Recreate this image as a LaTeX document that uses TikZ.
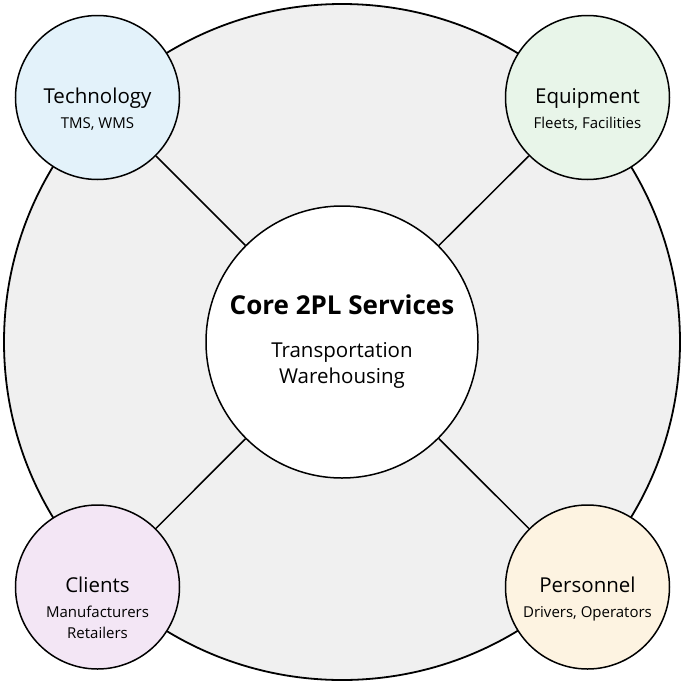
\documentclass[tikz,border=0pt]{standalone}
\usepackage{fontspec}
\setmainfont{Open Sans}
\usepackage{tikz}
\usetikzlibrary{positioning}
\definecolor{ringgray}{RGB}{240,240,240}
\definecolor{techblue}{RGB}{227,242,250}
\definecolor{equipgreen}{RGB}{232,245,233}
\definecolor{clientpurple}{RGB}{243,230,245}
\definecolor{staffcream}{RGB}{253,243,225}

\begin{document}
\begin{tikzpicture}[
      x=1pt, y=-1pt,
      ring/.style={draw, circle, line width=1.8pt, fill=ringgray, minimum size=676pt, inner sep=0pt},
      core/.style={draw, circle, line width=1.5pt, fill=white, minimum size=272pt, inner sep=0pt},
      side/.style={draw, circle, line width=1.5pt, minimum size=164pt, inner sep=0pt},
      link/.style={line width=1.5pt},
      title/.style={anchor=base, inner sep=0pt, font=\fontsize{26}{30}\selectfont\bfseries},
      head/.style={anchor=base, inner sep=0pt, font=\fontsize{20.5}{24}\selectfont},
      sub/.style={anchor=base, inner sep=0pt, font=\fontsize{15}{18}\selectfont}
    ]
    \useasboundingbox (0,0) rectangle (685,686);
    \node[ring] (ring) at (342,342) {};
    \node[core] (core) at (342,342) {};
    \node[side, fill=techblue] (tech) at (97.5,97.5) {};
    \node[side, fill=equipgreen] (equip) at (587.5,97.5) {};
    \node[side, fill=clientpurple] (clients) at (97.5,587) {};
    \node[side, fill=staffcream] (staff) at (587.5,587) {};

    % texts, placed on their baselines
    \node[title] (coretitle) at (342,314) {Core 2PL Services};
    \node[head] (corel1) at (342,357) {Transportation};
    \node[head] (corel2) at (342,383) {Warehousing};

    \node[head] (techname) at (97.5,103) {Technology};
    \node[sub] (techsub) at (97.5,128) {TMS, WMS};
    \node[head] (equipname) at (587.5,103) {Equipment};
    \node[sub] (equipsub) at (587.5,128) {Fleets, Facilities};
    \node[head] (clientsname) at (97.5,592) {Clients};
    \node[sub] (clientsl1) at (97.5,617) {Manufacturers};
    \node[sub] (clientsl2) at (97.5,638) {Retailers};
    \node[head] (staffname) at (587.5,592) {Personnel};
    \node[sub] (staffsub) at (587.5,617) {Drivers, Operators};

    \foreach \t in {tech,equip,clients,staff} {\draw[link] (core) -- (\t);}
  \end{tikzpicture}
\end{document}
